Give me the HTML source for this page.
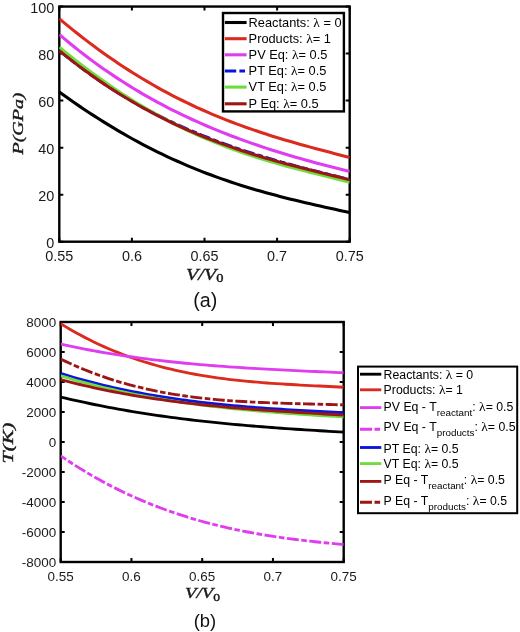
<!DOCTYPE html>
<html><head><meta charset="utf-8"><title>Figure</title>
<style>html,body{margin:0;padding:0;background:#fff}body{width:520px;height:632px;overflow:hidden}</style>
</head><body>
<svg width="520" height="632" viewBox="0 0 520 632" style="display:block">
<clipPath id="c1"><rect x="59.3" y="6.55" width="290.4" height="235.14999999999998"/></clipPath>
<path d="M59.30,241.7 v-4 M59.30,6.55 v4" stroke="#000" stroke-width="2"/>
<path d="M131.90,241.7 v-4 M131.90,6.55 v4" stroke="#000" stroke-width="2"/>
<path d="M204.50,241.7 v-4 M204.50,6.55 v4" stroke="#000" stroke-width="2"/>
<path d="M277.10,241.7 v-4 M277.10,6.55 v4" stroke="#000" stroke-width="2"/>
<path d="M349.70,241.7 v-4 M349.70,6.55 v4" stroke="#000" stroke-width="2"/>
<path d="M59.3,241.70 h4 M349.7,241.70 h-4" stroke="#000" stroke-width="2"/>
<path d="M59.3,194.67 h4 M349.7,194.67 h-4" stroke="#000" stroke-width="2"/>
<path d="M59.3,147.64 h4 M349.7,147.64 h-4" stroke="#000" stroke-width="2"/>
<path d="M59.3,100.61 h4 M349.7,100.61 h-4" stroke="#000" stroke-width="2"/>
<path d="M59.3,53.58 h4 M349.7,53.58 h-4" stroke="#000" stroke-width="2"/>
<path d="M59.3,6.55 h4 M349.7,6.55 h-4" stroke="#000" stroke-width="2"/>
<rect x="59.3" y="6.55" width="290.40" height="235.15" fill="none" stroke="#000" stroke-width="2.4"/>
<g clip-path="url(#c1)">
<path d="M59.30,91.98 L64.22,95.54 L69.14,99.03 L74.07,102.47 L78.99,105.85 L83.91,109.18 L88.83,112.45 L93.75,115.66 L98.68,118.81 L103.60,121.91 L108.52,124.94 L113.44,127.92 L118.36,130.84 L123.29,133.70 L128.21,136.50 L133.13,139.24 L138.05,141.92 L142.97,144.54 L147.90,147.10 L152.82,149.61 L157.74,152.06 L162.66,154.45 L167.58,156.78 L172.51,159.06 L177.43,161.28 L182.35,163.44 L187.27,165.56 L192.19,167.61 L197.12,169.62 L202.04,171.57 L206.96,173.47 L211.88,175.32 L216.81,177.12 L221.73,178.87 L226.65,180.58 L231.57,182.24 L236.49,183.86 L241.42,185.43 L246.34,186.96 L251.26,188.45 L256.18,189.90 L261.10,191.32 L266.03,192.70 L270.95,194.05 L275.87,195.36 L280.79,196.64 L285.71,197.90 L290.64,199.13 L295.56,200.33 L300.48,201.52 L305.40,202.68 L310.32,203.82 L315.25,204.95 L320.17,206.07 L325.09,207.17 L330.01,208.26 L334.93,209.35 L339.86,210.44 L344.78,211.52 L349.70,212.60" fill="none" stroke="#000000" stroke-width="3.1" stroke-linejoin="round"/>
<path d="M59.30,18.75 L64.22,22.86 L69.14,26.91 L74.07,30.88 L78.99,34.78 L83.91,38.61 L88.83,42.37 L93.75,46.05 L98.68,49.66 L103.60,53.21 L108.52,56.68 L113.44,60.08 L118.36,63.41 L123.29,66.67 L128.21,69.86 L133.13,72.98 L138.05,76.03 L142.97,79.01 L147.90,81.93 L152.82,84.78 L157.74,87.56 L162.66,90.28 L167.58,92.93 L172.51,95.52 L177.43,98.04 L182.35,100.51 L187.27,102.91 L192.19,105.25 L197.12,107.54 L202.04,109.77 L206.96,111.94 L211.88,114.05 L216.81,116.11 L221.73,118.12 L226.65,120.08 L231.57,121.99 L236.49,123.85 L241.42,125.66 L246.34,127.43 L251.26,129.16 L256.18,130.84 L261.10,132.48 L266.03,134.09 L270.95,135.65 L275.87,137.19 L280.79,138.69 L285.71,140.16 L290.64,141.60 L295.56,143.01 L300.48,144.40 L305.40,145.77 L310.32,147.12 L315.25,148.45 L320.17,149.76 L325.09,151.06 L330.01,152.35 L334.93,153.63 L339.86,154.90 L344.78,156.17 L349.70,157.44" fill="none" stroke="#dc2a1e" stroke-width="3.1" stroke-linejoin="round"/>
<path d="M59.30,34.48 L64.22,38.67 L69.14,42.76 L74.07,46.76 L78.99,50.66 L83.91,54.48 L88.83,58.22 L93.75,61.87 L98.68,65.43 L103.60,68.92 L108.52,72.32 L113.44,75.65 L118.36,78.90 L123.29,82.07 L128.21,85.17 L133.13,88.20 L138.05,91.16 L142.97,94.05 L147.90,96.87 L152.82,99.62 L157.74,102.32 L162.66,104.95 L167.58,107.51 L172.51,110.02 L177.43,112.47 L182.35,114.86 L187.27,117.20 L192.19,119.48 L197.12,121.71 L202.04,123.89 L206.96,126.01 L211.88,128.09 L216.81,130.12 L221.73,132.11 L226.65,134.05 L231.57,135.94 L236.49,137.80 L241.42,139.61 L246.34,141.38 L251.26,143.12 L256.18,144.81 L261.10,146.47 L266.03,148.10 L270.95,149.69 L275.87,151.25 L280.79,152.77 L285.71,154.27 L290.64,155.73 L295.56,157.17 L300.48,158.58 L305.40,159.96 L310.32,161.32 L315.25,162.66 L320.17,163.97 L325.09,165.26 L330.01,166.52 L334.93,167.77 L339.86,169.00 L344.78,170.21 L349.70,171.40" fill="none" stroke="#e03cf0" stroke-width="3.1" stroke-linejoin="round"/>
<path d="M59.30,50.64 L64.22,54.61 L69.14,58.50 L74.07,62.31 L78.99,66.03 L83.91,69.67 L88.83,73.22 L93.75,76.70 L98.68,80.10 L103.60,83.42 L108.52,86.66 L113.44,89.82 L118.36,92.92 L123.29,95.94 L128.21,98.88 L133.13,101.76 L138.05,104.57 L142.97,107.30 L147.90,109.98 L152.82,112.58 L157.74,115.12 L162.66,117.60 L167.58,120.02 L172.51,122.38 L177.43,124.67 L182.35,126.91 L187.27,129.10 L192.19,131.22 L197.12,133.30 L202.04,135.32 L206.96,137.30 L211.88,139.22 L216.81,141.10 L221.73,142.93 L226.65,144.71 L231.57,146.46 L236.49,148.16 L241.42,149.82 L246.34,151.44 L251.26,153.03 L256.18,154.58 L261.10,156.10 L266.03,157.59 L270.95,159.04 L275.87,160.47 L280.79,161.87 L285.71,163.25 L290.64,164.60 L295.56,165.93 L300.48,167.25 L305.40,168.54 L310.32,169.82 L315.25,171.08 L320.17,172.33 L325.09,173.57 L330.01,174.80 L334.93,176.02 L339.86,177.23 L344.78,178.45 L349.70,179.66" fill="none" stroke="#0a14dc" stroke-width="3.1" stroke-dasharray="11.4,3.2,5.6,3.2" stroke-linejoin="round"/>
<path d="M59.30,47.24 L64.22,51.25 L69.14,55.21 L74.07,59.10 L78.99,62.93 L83.91,66.69 L88.83,70.39 L93.75,74.03 L98.68,77.60 L103.60,81.10 L108.52,84.54 L113.44,87.91 L118.36,91.21 L123.29,94.44 L128.21,97.60 L133.13,100.70 L138.05,103.73 L142.97,106.69 L147.90,109.58 L152.82,112.40 L157.74,115.15 L162.66,117.84 L167.58,120.46 L172.51,123.01 L177.43,125.50 L182.35,127.92 L187.27,130.28 L192.19,132.57 L197.12,134.80 L202.04,136.97 L206.96,139.08 L211.88,141.13 L216.81,143.12 L221.73,145.06 L226.65,146.94 L231.57,148.77 L236.49,150.54 L241.42,152.27 L246.34,153.95 L251.26,155.58 L256.18,157.17 L261.10,158.71 L266.03,160.22 L270.95,161.69 L275.87,163.12 L280.79,164.52 L285.71,165.89 L290.64,167.23 L295.56,168.55 L300.48,169.84 L305.40,171.12 L310.32,172.38 L315.25,173.62 L320.17,174.86 L325.09,176.08 L330.01,177.31 L334.93,178.53 L339.86,179.75 L344.78,180.98 L349.70,182.23" fill="none" stroke="#6edc3c" stroke-width="3.1" stroke-linejoin="round"/>
<path d="M59.30,50.64 L64.22,54.63 L69.14,58.54 L74.07,62.37 L78.99,66.11 L83.91,69.78 L88.83,73.36 L93.75,76.87 L98.68,80.29 L103.60,83.64 L108.52,86.92 L113.44,90.11 L118.36,93.24 L123.29,96.29 L128.21,99.27 L133.13,102.17 L138.05,105.01 L142.97,107.78 L147.90,110.48 L152.82,113.11 L157.74,115.68 L162.66,118.18 L167.58,120.62 L172.51,122.99 L177.43,125.31 L182.35,127.56 L187.27,129.76 L192.19,131.90 L197.12,133.99 L202.04,136.02 L206.96,137.99 L211.88,139.92 L216.81,141.80 L221.73,143.63 L226.65,145.41 L231.57,147.15 L236.49,148.84 L241.42,150.49 L246.34,152.10 L251.26,153.67 L256.18,155.20 L261.10,156.70 L266.03,158.17 L270.95,159.60 L275.87,161.00 L280.79,162.37 L285.71,163.72 L290.64,165.04 L295.56,166.34 L300.48,167.62 L305.40,168.87 L310.32,170.12 L315.25,171.34 L320.17,172.55 L325.09,173.75 L330.01,174.94 L334.93,176.13 L339.86,177.31 L344.78,178.48 L349.70,179.66" fill="none" stroke="#9c1616" stroke-width="3.1" stroke-linejoin="round"/>
</g>
<text x="59.30" y="261.2" font-family="Liberation Sans, Arial, Helvetica, sans-serif" font-size="14.4" text-anchor="middle" fill="#1a1a1a">0.55</text>
<text x="131.90" y="261.2" font-family="Liberation Sans, Arial, Helvetica, sans-serif" font-size="14.4" text-anchor="middle" fill="#1a1a1a">0.6</text>
<text x="204.50" y="261.2" font-family="Liberation Sans, Arial, Helvetica, sans-serif" font-size="14.4" text-anchor="middle" fill="#1a1a1a">0.65</text>
<text x="277.10" y="261.2" font-family="Liberation Sans, Arial, Helvetica, sans-serif" font-size="14.4" text-anchor="middle" fill="#1a1a1a">0.7</text>
<text x="349.70" y="261.2" font-family="Liberation Sans, Arial, Helvetica, sans-serif" font-size="14.4" text-anchor="middle" fill="#1a1a1a">0.75</text>
<text x="54.3" y="248.00" font-family="Liberation Sans, Arial, Helvetica, sans-serif" font-size="14.4" text-anchor="end" fill="#1a1a1a">0</text>
<text x="54.3" y="200.97" font-family="Liberation Sans, Arial, Helvetica, sans-serif" font-size="14.4" text-anchor="end" fill="#1a1a1a">20</text>
<text x="54.3" y="153.94" font-family="Liberation Sans, Arial, Helvetica, sans-serif" font-size="14.4" text-anchor="end" fill="#1a1a1a">40</text>
<text x="54.3" y="106.91" font-family="Liberation Sans, Arial, Helvetica, sans-serif" font-size="14.4" text-anchor="end" fill="#1a1a1a">60</text>
<text x="54.3" y="59.88" font-family="Liberation Sans, Arial, Helvetica, sans-serif" font-size="14.4" text-anchor="end" fill="#1a1a1a">80</text>
<text x="54.3" y="12.85" font-family="Liberation Sans, Arial, Helvetica, sans-serif" font-size="14.4" text-anchor="end" fill="#1a1a1a">100</text>
<text x="204.8" y="279.5" font-family="Liberation Serif, Times New Roman, serif" font-style="italic" stroke="#1a1a1a" stroke-width="0.38" font-size="16" text-anchor="middle" fill="#1a1a1a" textLength="37.5" lengthAdjust="spacingAndGlyphs">V/V<tspan font-size="11.5" dy="2.2" font-style="normal">0</tspan></text>
<text transform="translate(22.6,123.5) rotate(-90)" font-family="Liberation Serif, Times New Roman, serif" font-style="italic" stroke="#1a1a1a" stroke-width="0.38" font-size="15.5" text-anchor="middle" fill="#1a1a1a" textLength="62" lengthAdjust="spacingAndGlyphs">P(GPa)</text>
<text x="205.2" y="307.4" font-family="Liberation Sans, Arial, Helvetica, sans-serif" font-size="19.7" text-anchor="middle" fill="#111">(a)</text>
<rect x="223" y="13" width="120.90" height="98.40" fill="#fff" stroke="#000" stroke-width="2.4"/>
<path d="M224.8,22.5 H246.6" stroke="#000000" stroke-width="3.1"/>
<text x="248.6" y="26.80" font-family="Liberation Sans, Arial, Helvetica, sans-serif" font-size="12.8" fill="#000">Reactants: <tspan font-family="Liberation Serif, serif" font-size="13.5">λ</tspan> = 0</text>
<path d="M224.8,38.7 H246.6" stroke="#dc2a1e" stroke-width="3.1"/>
<text x="248.6" y="43.00" font-family="Liberation Sans, Arial, Helvetica, sans-serif" font-size="12.8" fill="#000">Products: <tspan font-family="Liberation Serif, serif" font-size="13.5">λ</tspan>= 1</text>
<path d="M224.8,54.8 H246.6" stroke="#e03cf0" stroke-width="3.1"/>
<text x="248.6" y="59.10" font-family="Liberation Sans, Arial, Helvetica, sans-serif" font-size="12.8" fill="#000">PV Eq: <tspan font-family="Liberation Serif, serif" font-size="13.5">λ</tspan>= 0.5</text>
<path d="M224.8,71.0 H246.6" stroke="#0a14dc" stroke-width="3.1" stroke-dasharray="11.4,3.2,5.6,3.2"/>
<text x="248.6" y="75.30" font-family="Liberation Sans, Arial, Helvetica, sans-serif" font-size="12.8" fill="#000">PT Eq: <tspan font-family="Liberation Serif, serif" font-size="13.5">λ</tspan>= 0.5</text>
<path d="M224.8,87.1 H246.6" stroke="#6edc3c" stroke-width="3.1"/>
<text x="248.6" y="91.40" font-family="Liberation Sans, Arial, Helvetica, sans-serif" font-size="12.8" fill="#000">VT Eq: <tspan font-family="Liberation Serif, serif" font-size="13.5">λ</tspan>= 0.5</text>
<path d="M224.8,103.8 H246.6" stroke="#9c1616" stroke-width="3.1"/>
<text x="248.6" y="108.10" font-family="Liberation Sans, Arial, Helvetica, sans-serif" font-size="12.8" fill="#000">P Eq: <tspan font-family="Liberation Serif, serif" font-size="13.5">λ</tspan>= 0.5</text>
<clipPath id="c2"><rect x="60.7" y="322" width="283.0" height="240"/></clipPath>
<path d="M60.70,562 v-4 M60.70,322 v4" stroke="#000" stroke-width="2"/>
<path d="M131.45,562 v-4 M131.45,322 v4" stroke="#000" stroke-width="2"/>
<path d="M202.20,562 v-4 M202.20,322 v4" stroke="#000" stroke-width="2"/>
<path d="M272.95,562 v-4 M272.95,322 v4" stroke="#000" stroke-width="2"/>
<path d="M343.70,562 v-4 M343.70,322 v4" stroke="#000" stroke-width="2"/>
<path d="M60.7,562.00 h4 M343.7,562.00 h-4" stroke="#000" stroke-width="2"/>
<path d="M60.7,532.00 h4 M343.7,532.00 h-4" stroke="#000" stroke-width="2"/>
<path d="M60.7,502.00 h4 M343.7,502.00 h-4" stroke="#000" stroke-width="2"/>
<path d="M60.7,472.00 h4 M343.7,472.00 h-4" stroke="#000" stroke-width="2"/>
<path d="M60.7,442.00 h4 M343.7,442.00 h-4" stroke="#000" stroke-width="2"/>
<path d="M60.7,412.00 h4 M343.7,412.00 h-4" stroke="#000" stroke-width="2"/>
<path d="M60.7,382.00 h4 M343.7,382.00 h-4" stroke="#000" stroke-width="2"/>
<path d="M60.7,352.00 h4 M343.7,352.00 h-4" stroke="#000" stroke-width="2"/>
<path d="M60.7,322.00 h4 M343.7,322.00 h-4" stroke="#000" stroke-width="2"/>
<rect x="60.7" y="322" width="283.00" height="240.00" fill="none" stroke="#000" stroke-width="2.4"/>
<g clip-path="url(#c2)">
<path d="M60.70,397.04 L65.50,398.18 L70.29,399.29 L75.09,400.38 L79.89,401.45 L84.68,402.48 L89.48,403.50 L94.28,404.49 L99.07,405.45 L103.87,406.39 L108.67,407.31 L113.46,408.20 L118.26,409.08 L123.06,409.93 L127.85,410.75 L132.65,411.56 L137.45,412.35 L142.24,413.11 L147.04,413.86 L151.84,414.59 L156.63,415.29 L161.43,415.98 L166.23,416.65 L171.02,417.30 L175.82,417.94 L180.62,418.55 L185.41,419.15 L190.21,419.74 L195.01,420.30 L199.80,420.85 L204.60,421.39 L209.39,421.91 L214.19,422.42 L218.99,422.91 L223.78,423.39 L228.58,423.86 L233.38,424.31 L238.17,424.75 L242.97,425.18 L247.77,425.60 L252.56,426.00 L257.36,426.40 L262.16,426.78 L266.95,427.16 L271.75,427.52 L276.55,427.88 L281.34,428.23 L286.14,428.56 L290.94,428.90 L295.73,429.22 L300.53,429.53 L305.33,429.84 L310.12,430.15 L314.92,430.44 L319.72,430.73 L324.51,431.02 L329.31,431.30 L334.11,431.58 L338.90,431.85 L343.70,432.12" fill="none" stroke="#000000" stroke-width="2.85" stroke-linejoin="round"/>
<path d="M60.70,323.71 L65.50,326.64 L70.29,329.46 L75.09,332.19 L79.89,334.83 L84.68,337.37 L89.48,339.82 L94.28,342.18 L99.07,344.45 L103.87,346.63 L108.67,348.73 L113.46,350.75 L118.26,352.69 L123.06,354.54 L127.85,356.33 L132.65,358.03 L137.45,359.66 L142.24,361.23 L147.04,362.72 L151.84,364.14 L156.63,365.50 L161.43,366.80 L166.23,368.03 L171.02,369.21 L175.82,370.32 L180.62,371.38 L185.41,372.38 L190.21,373.34 L195.01,374.24 L199.80,375.09 L204.60,375.90 L209.39,376.66 L214.19,377.38 L218.99,378.05 L223.78,378.69 L228.58,379.29 L233.38,379.85 L238.17,380.38 L242.97,380.88 L247.77,381.35 L252.56,381.79 L257.36,382.20 L262.16,382.59 L266.95,382.96 L271.75,383.30 L276.55,383.63 L281.34,383.94 L286.14,384.24 L290.94,384.52 L295.73,384.79 L300.53,385.05 L305.33,385.31 L310.12,385.55 L314.92,385.80 L319.72,386.04 L324.51,386.29 L329.31,386.53 L334.11,386.78 L338.90,387.03 L343.70,387.29" fill="none" stroke="#dc2a1e" stroke-width="2.85" stroke-linejoin="round"/>
<path d="M60.70,344.10 L65.50,345.16 L70.29,346.18 L75.09,347.17 L79.89,348.14 L84.68,349.08 L89.48,349.99 L94.28,350.87 L99.07,351.73 L103.87,352.56 L108.67,353.36 L113.46,354.14 L118.26,354.90 L123.06,355.63 L127.85,356.34 L132.65,357.03 L137.45,357.69 L142.24,358.33 L147.04,358.95 L151.84,359.55 L156.63,360.14 L161.43,360.70 L166.23,361.24 L171.02,361.76 L175.82,362.27 L180.62,362.76 L185.41,363.23 L190.21,363.68 L195.01,364.12 L199.80,364.55 L204.60,364.95 L209.39,365.35 L214.19,365.73 L218.99,366.10 L223.78,366.45 L228.58,366.80 L233.38,367.13 L238.17,367.45 L242.97,367.76 L247.77,368.06 L252.56,368.35 L257.36,368.63 L262.16,368.91 L266.95,369.17 L271.75,369.43 L276.55,369.68 L281.34,369.93 L286.14,370.17 L290.94,370.40 L295.73,370.63 L300.53,370.86 L305.33,371.08 L310.12,371.30 L314.92,371.51 L319.72,371.73 L324.51,371.94 L329.31,372.15 L334.11,372.37 L338.90,372.58 L343.70,372.79" fill="none" stroke="#e03cf0" stroke-width="2.85" stroke-linejoin="round"/>
<path d="M60.70,455.87 L65.50,459.12 L70.29,462.29 L75.09,465.37 L79.89,468.38 L84.68,471.30 L89.48,474.14 L94.28,476.91 L99.07,479.61 L103.87,482.22 L108.67,484.77 L113.46,487.24 L118.26,489.64 L123.06,491.97 L127.85,494.24 L132.65,496.43 L137.45,498.56 L142.24,500.62 L147.04,502.62 L151.84,504.56 L156.63,506.44 L161.43,508.25 L166.23,510.01 L171.02,511.71 L175.82,513.35 L180.62,514.94 L185.41,516.47 L190.21,517.95 L195.01,519.38 L199.80,520.75 L204.60,522.08 L209.39,523.36 L214.19,524.59 L218.99,525.78 L223.78,526.92 L228.58,528.02 L233.38,529.07 L238.17,530.09 L242.97,531.06 L247.77,532.00 L252.56,532.90 L257.36,533.76 L262.16,534.59 L266.95,535.38 L271.75,536.15 L276.55,536.88 L281.34,537.57 L286.14,538.25 L290.94,538.89 L295.73,539.50 L300.53,540.09 L305.33,540.66 L310.12,541.20 L314.92,541.73 L319.72,542.23 L324.51,542.71 L329.31,543.17 L334.11,543.62 L338.90,544.05 L343.70,544.46" fill="none" stroke="#e03cf0" stroke-width="2.85" stroke-dasharray="12,2.5,5.6,2.5" stroke-dashoffset="5.5" stroke-linejoin="round"/>
<path d="M60.70,373.48 L65.50,374.95 L70.29,376.39 L75.09,377.78 L79.89,379.13 L84.68,380.44 L89.48,381.72 L94.28,382.95 L99.07,384.15 L103.87,385.32 L108.67,386.44 L113.46,387.54 L118.26,388.60 L123.06,389.62 L127.85,390.62 L132.65,391.58 L137.45,392.51 L142.24,393.41 L147.04,394.28 L151.84,395.12 L156.63,395.93 L161.43,396.71 L166.23,397.47 L171.02,398.20 L175.82,398.90 L180.62,399.58 L185.41,400.24 L190.21,400.87 L195.01,401.47 L199.80,402.06 L204.60,402.62 L209.39,403.17 L214.19,403.69 L218.99,404.19 L223.78,404.68 L228.58,405.15 L233.38,405.59 L238.17,406.03 L242.97,406.44 L247.77,406.84 L252.56,407.23 L257.36,407.60 L262.16,407.96 L266.95,408.31 L271.75,408.64 L276.55,408.96 L281.34,409.28 L286.14,409.58 L290.94,409.87 L295.73,410.16 L300.53,410.44 L305.33,410.71 L310.12,410.97 L314.92,411.23 L319.72,411.48 L324.51,411.73 L329.31,411.98 L334.11,412.22 L338.90,412.46 L343.70,412.70" fill="none" stroke="#0a14dc" stroke-width="2.85" stroke-linejoin="round"/>
<path d="M60.70,375.78 L65.50,377.23 L70.29,378.63 L75.09,380.01 L79.89,381.34 L84.68,382.64 L89.48,383.91 L94.28,385.14 L99.07,386.34 L103.87,387.51 L108.67,388.64 L113.46,389.74 L118.26,390.81 L123.06,391.86 L127.85,392.87 L132.65,393.85 L137.45,394.80 L142.24,395.72 L147.04,396.62 L151.84,397.49 L156.63,398.33 L161.43,399.15 L166.23,399.94 L171.02,400.71 L175.82,401.45 L180.62,402.17 L185.41,402.87 L190.21,403.54 L195.01,404.20 L199.80,404.83 L204.60,405.44 L209.39,406.03 L214.19,406.60 L218.99,407.16 L223.78,407.69 L228.58,408.21 L233.38,408.71 L238.17,409.20 L242.97,409.66 L247.77,410.12 L252.56,410.56 L257.36,410.98 L262.16,411.39 L266.95,411.79 L271.75,412.18 L276.55,412.56 L281.34,412.92 L286.14,413.27 L290.94,413.62 L295.73,413.95 L300.53,414.28 L305.33,414.60 L310.12,414.91 L314.92,415.21 L319.72,415.51 L324.51,415.80 L329.31,416.09 L334.11,416.37 L338.90,416.65 L343.70,416.92" fill="none" stroke="#6edc3c" stroke-width="2.85" stroke-linejoin="round"/>
<path d="M60.70,379.68 L65.50,380.94 L70.29,382.16 L75.09,383.36 L79.89,384.51 L84.68,385.64 L89.48,386.73 L94.28,387.79 L99.07,388.83 L103.87,389.83 L108.67,390.80 L113.46,391.74 L118.26,392.66 L123.06,393.54 L127.85,394.40 L132.65,395.24 L137.45,396.04 L142.24,396.83 L147.04,397.58 L151.84,398.32 L156.63,399.03 L161.43,399.71 L166.23,400.38 L171.02,401.02 L175.82,401.65 L180.62,402.25 L185.41,402.83 L190.21,403.40 L195.01,403.94 L199.80,404.47 L204.60,404.98 L209.39,405.48 L214.19,405.95 L218.99,406.42 L223.78,406.86 L228.58,407.30 L233.38,407.72 L238.17,408.13 L242.97,408.52 L247.77,408.91 L252.56,409.28 L257.36,409.64 L262.16,409.99 L266.95,410.34 L271.75,410.67 L276.55,411.00 L281.34,411.32 L286.14,411.63 L290.94,411.94 L295.73,412.24 L300.53,412.54 L305.33,412.83 L310.12,413.12 L314.92,413.40 L319.72,413.69 L324.51,413.97 L329.31,414.25 L334.11,414.53 L338.90,414.81 L343.70,415.09" fill="none" stroke="#9c1616" stroke-width="2.85" stroke-linejoin="round"/>
<path d="M60.70,359.04 L65.50,361.35 L70.29,363.58 L75.09,365.72 L79.89,367.78 L84.68,369.77 L89.48,371.67 L94.28,373.50 L99.07,375.26 L103.87,376.94 L108.67,378.55 L113.46,380.10 L118.26,381.57 L123.06,382.98 L127.85,384.32 L132.65,385.61 L137.45,386.83 L142.24,387.99 L147.04,389.09 L151.84,390.13 L156.63,391.13 L161.43,392.07 L166.23,392.95 L171.02,393.79 L175.82,394.58 L180.62,395.32 L185.41,396.02 L190.21,396.68 L195.01,397.30 L199.80,397.87 L204.60,398.41 L209.39,398.91 L214.19,399.38 L218.99,399.81 L223.78,400.21 L228.58,400.58 L233.38,400.93 L238.17,401.25 L242.97,401.54 L247.77,401.81 L252.56,402.06 L257.36,402.29 L262.16,402.50 L266.95,402.69 L271.75,402.87 L276.55,403.04 L281.34,403.19 L286.14,403.34 L290.94,403.47 L295.73,403.60 L300.53,403.73 L305.33,403.85 L310.12,403.97 L314.92,404.09 L319.72,404.22 L324.51,404.34 L329.31,404.47 L334.11,404.61 L338.90,404.76 L343.70,404.91" fill="none" stroke="#9c1616" stroke-width="2.85" stroke-dasharray="12,2.5,5.6,2.5" stroke-linejoin="round"/>
</g>
<text x="60.70" y="580.8" font-family="Liberation Sans, Arial, Helvetica, sans-serif" font-size="13.45" text-anchor="middle" fill="#1a1a1a">0.55</text>
<text x="131.45" y="580.8" font-family="Liberation Sans, Arial, Helvetica, sans-serif" font-size="13.45" text-anchor="middle" fill="#1a1a1a">0.6</text>
<text x="202.20" y="580.8" font-family="Liberation Sans, Arial, Helvetica, sans-serif" font-size="13.45" text-anchor="middle" fill="#1a1a1a">0.65</text>
<text x="272.95" y="580.8" font-family="Liberation Sans, Arial, Helvetica, sans-serif" font-size="13.45" text-anchor="middle" fill="#1a1a1a">0.7</text>
<text x="343.70" y="580.8" font-family="Liberation Sans, Arial, Helvetica, sans-serif" font-size="13.45" text-anchor="middle" fill="#1a1a1a">0.75</text>
<text x="56.2" y="567.10" font-family="Liberation Sans, Arial, Helvetica, sans-serif" font-size="13.45" text-anchor="end" fill="#1a1a1a">-8000</text>
<text x="56.2" y="537.10" font-family="Liberation Sans, Arial, Helvetica, sans-serif" font-size="13.45" text-anchor="end" fill="#1a1a1a">-6000</text>
<text x="56.2" y="507.10" font-family="Liberation Sans, Arial, Helvetica, sans-serif" font-size="13.45" text-anchor="end" fill="#1a1a1a">-4000</text>
<text x="56.2" y="477.10" font-family="Liberation Sans, Arial, Helvetica, sans-serif" font-size="13.45" text-anchor="end" fill="#1a1a1a">-2000</text>
<text x="56.2" y="447.10" font-family="Liberation Sans, Arial, Helvetica, sans-serif" font-size="13.45" text-anchor="end" fill="#1a1a1a">0</text>
<text x="56.2" y="417.10" font-family="Liberation Sans, Arial, Helvetica, sans-serif" font-size="13.45" text-anchor="end" fill="#1a1a1a">2000</text>
<text x="56.2" y="387.10" font-family="Liberation Sans, Arial, Helvetica, sans-serif" font-size="13.45" text-anchor="end" fill="#1a1a1a">4000</text>
<text x="56.2" y="357.10" font-family="Liberation Sans, Arial, Helvetica, sans-serif" font-size="13.45" text-anchor="end" fill="#1a1a1a">6000</text>
<text x="56.2" y="327.10" font-family="Liberation Sans, Arial, Helvetica, sans-serif" font-size="13.45" text-anchor="end" fill="#1a1a1a">8000</text>
<text x="202.5" y="598.3" font-family="Liberation Serif, Times New Roman, serif" font-style="italic" stroke="#1a1a1a" stroke-width="0.38" font-size="14.3" text-anchor="middle" fill="#1a1a1a" textLength="35" lengthAdjust="spacingAndGlyphs">V/V<tspan font-size="10.3" dy="2.2" font-style="normal">0</tspan></text>
<text transform="translate(12.6,443) rotate(-90)" font-family="Liberation Serif, Times New Roman, serif" font-style="italic" stroke="#1a1a1a" stroke-width="0.38" font-size="13.6" text-anchor="middle" fill="#1a1a1a" textLength="41" lengthAdjust="spacingAndGlyphs">T(K)</text>
<text x="205" y="626.5" font-family="Liberation Sans, Arial, Helvetica, sans-serif" font-size="18.4" text-anchor="middle" fill="#111">(b)</text>
<rect x="358" y="366.6" width="159.20" height="146.60" fill="#fff" stroke="#000" stroke-width="2"/>
<path d="M360,374.2 H381.3" stroke="#000000" stroke-width="2.85"/>
<text x="383.6" y="378.70" font-family="Liberation Sans, Arial, Helvetica, sans-serif" font-size="12.3" fill="#000">Reactants: <tspan font-family="Liberation Serif, serif" font-size="13.5">λ</tspan> = 0</text>
<path d="M360,389.8 H381.3" stroke="#dc2a1e" stroke-width="2.85"/>
<text x="383.6" y="394.30" font-family="Liberation Sans, Arial, Helvetica, sans-serif" font-size="12.3" fill="#000">Products: <tspan font-family="Liberation Serif, serif" font-size="13.5">λ</tspan>= 1</text>
<path d="M360,407.6 H381.3" stroke="#e03cf0" stroke-width="2.85"/>
<text x="383.6" y="411.00" font-family="Liberation Sans, Arial, Helvetica, sans-serif" font-size="12.3" fill="#000">PV Eq - T<tspan font-size="9.85" dy="5">reactant</tspan><tspan dy="-5">: </tspan><tspan font-family="Liberation Serif, serif" font-size="13.5">λ</tspan>= 0.5</text>
<path d="M360,429.2 H381.3" stroke="#e03cf0" stroke-width="2.85" stroke-dasharray="12,2.5,5.6,2.5"/>
<text x="383.6" y="431.30" font-family="Liberation Sans, Arial, Helvetica, sans-serif" font-size="12.3" fill="#000">PV Eq - T<tspan font-size="9.85" dy="5">products</tspan><tspan dy="-5">: </tspan><tspan font-family="Liberation Serif, serif" font-size="13.5">λ</tspan>= 0.5</text>
<path d="M360,447.5 H381.3" stroke="#0a14dc" stroke-width="2.85"/>
<text x="383.6" y="452.70" font-family="Liberation Sans, Arial, Helvetica, sans-serif" font-size="12.3" fill="#000">PT Eq: <tspan font-family="Liberation Serif, serif" font-size="13.5">λ</tspan>= 0.5</text>
<path d="M360,463.6 H381.3" stroke="#6edc3c" stroke-width="2.85"/>
<text x="383.6" y="467.90" font-family="Liberation Sans, Arial, Helvetica, sans-serif" font-size="12.3" fill="#000">VT Eq: <tspan font-family="Liberation Serif, serif" font-size="13.5">λ</tspan>= 0.5</text>
<path d="M360,481.4 H381.3" stroke="#9c1616" stroke-width="2.85"/>
<text x="383.6" y="483.50" font-family="Liberation Sans, Arial, Helvetica, sans-serif" font-size="12.3" fill="#000">P Eq - T<tspan font-size="9.85" dy="5">reactant</tspan><tspan dy="-5">: </tspan><tspan font-family="Liberation Serif, serif" font-size="13.5">λ</tspan>= 0.5</text>
<path d="M360,502.2 H381.3" stroke="#9c1616" stroke-width="2.85" stroke-dasharray="12,2.5,5.6,2.5"/>
<text x="383.6" y="504.60" font-family="Liberation Sans, Arial, Helvetica, sans-serif" font-size="12.3" fill="#000">P Eq - T<tspan font-size="9.85" dy="5">products</tspan><tspan dy="-5">: </tspan><tspan font-family="Liberation Serif, serif" font-size="13.5">λ</tspan>= 0.5</text>
</svg>
</body></html>
